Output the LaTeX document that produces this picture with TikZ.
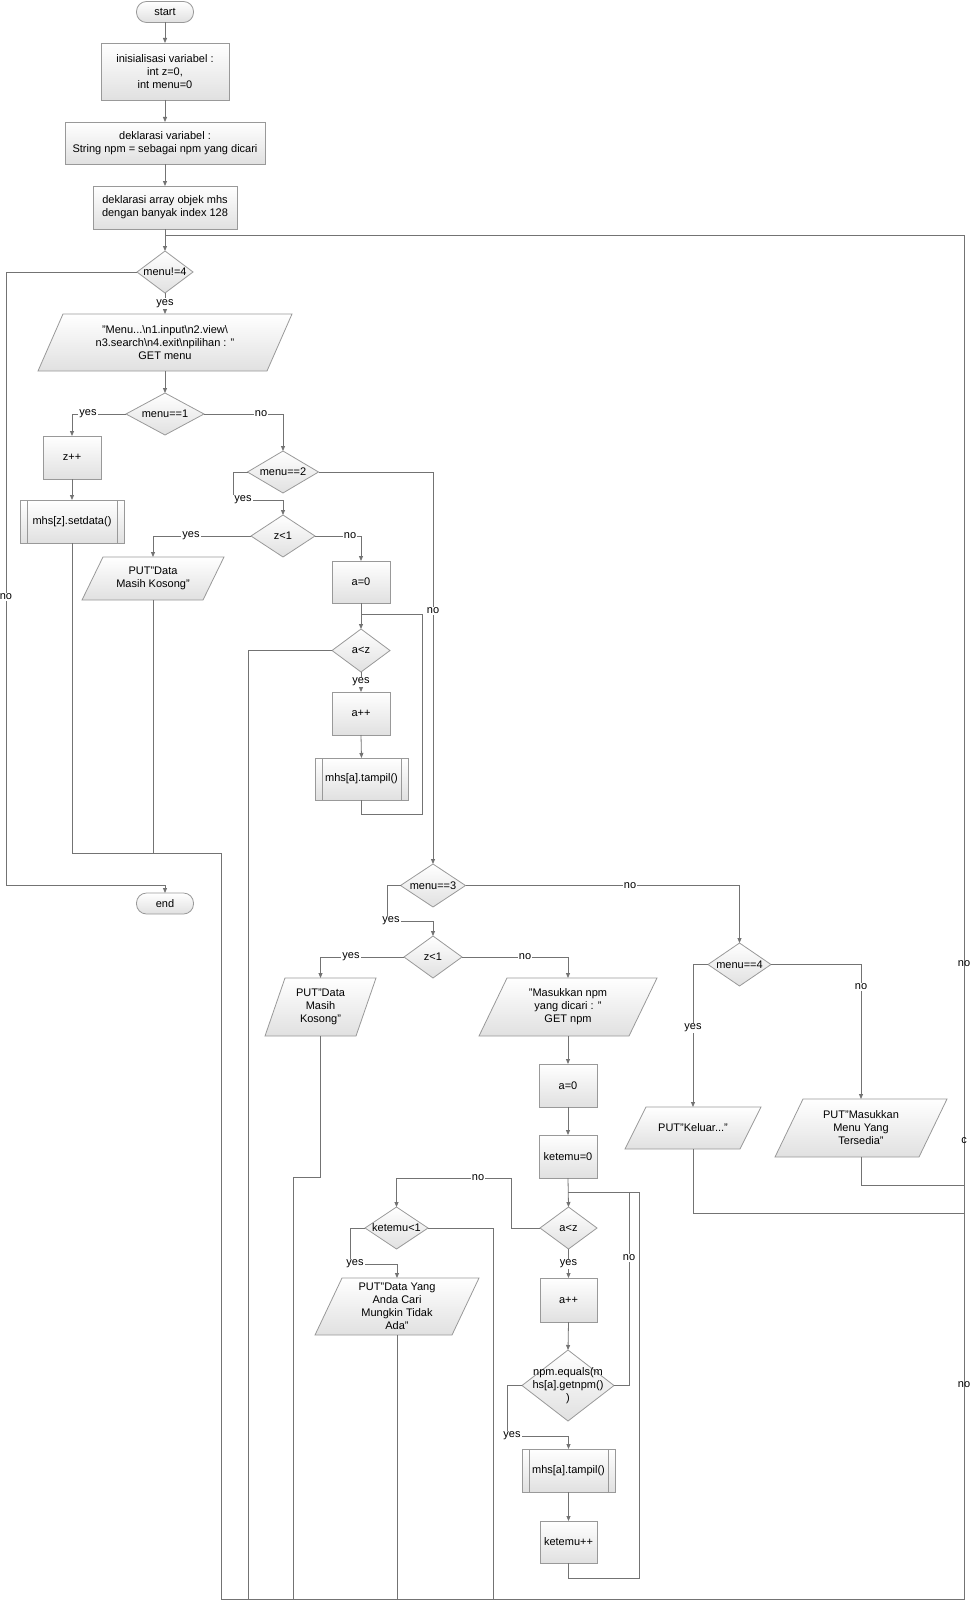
\documentclass[tikz,border=0pt]{standalone}
\usepackage{fontspec}
\setmainfont{Liberation Sans}
\usetikzlibrary{shapes.geometric,arrows.meta}
\tikzset{
  shp/.style={draw=black!40, line width=0.8pt, top color=white, bottom color=black!12, inner sep=1pt, outer sep=0pt, align=center},
  proc/.style={shp, rectangle},
  term/.style={shp, rectangle, rounded corners=10pt},
  dec/.style={shp, diamond},
  predef/.style={shp, rectangle, path picture={
     \draw[black!40, line width=0.8pt] ([xshift=7pt]path picture bounding box.north west) -- ([xshift=7pt]path picture bounding box.south west)
       ([xshift=-7pt]path picture bounding box.north east) -- ([xshift=-7pt]path picture bounding box.south east);}},
  paranode/.style={rectangle, inner sep=1pt, outer sep=0pt, align=center},
  parafill/.style={draw=black!40, line width=0.8pt, top color=white, bottom color=black!12},
  conn/.style={draw=black!55, line width=0.8pt},
  flow/.style={conn, -{Triangle[length=5pt,width=4pt]}},
  lbl/.style={fill=white, inner sep=1pt},
  rlbl/.style={inner sep=1pt}
}
\newcommand\para[7]{%
  \path[parafill] ({#2-#4/2+#6},{#3-#5/2}) -- ({#2+#4/2},{#3-#5/2}) -- ({#2+#4/2-#6},{#3+#5/2}) -- ({#2-#4/2},{#3+#5/2}) -- cycle;
  \node[paranode, minimum width={#4-2*#6}, minimum height=#5] (#1) at (#2,#3) {#7};}
\begin{document}
\begin{tikzpicture}[x=1pt,y=-1pt,font=\fontsize{11}{13}\selectfont]
\useasboundingbox (0,0) rectangle (970,1600);
% nodes
\node[term, minimum width=57, minimum height=21] (start) at (165,12) {start};
\node[proc, minimum width=128, minimum height=57] (init) at (165,71.5) {inisialisasi variabel :\\int z=0,\\int menu=0};
\node[proc, minimum width=200, minimum height=42] (decl) at (165,143) {deklarasi variabel :\\String npm = sebagai npm yang dicari};
\node[proc, minimum width=144, minimum height=43] (arr) at (165,207.5) {deklarasi array objek mhs\\dengan banyak index 128};
\node[dec, minimum width=56, minimum height=42] (m4) at (165,272) {\makebox[0pt]{menu!=4}};
\para{inp}{165}{342.5}{254}{57}{25}{"Menu...\textbackslash n1.input\textbackslash n2.view\textbackslash\\n3.search\textbackslash n4.exit\textbackslash npilihan : "\\GET menu}
\node[dec, minimum width=78, minimum height=42] (m1) at (165,414) {\makebox[0pt]{menu==1}};
\node[proc, minimum width=58, minimum height=43] (zpp) at (72,457.5) {z++};
\node[predef, minimum width=104, minimum height=43] (setd) at (72,521.5) {mhs[z].setdata()};
\node[dec, minimum width=71, minimum height=42] (m2) at (283,472) {\makebox[0pt]{menu==2}};
\node[dec, minimum width=64, minimum height=42] (zc1) at (283,536) {\makebox[0pt]{z<1}};
\para{put1}{153}{578.5}{142}{43}{21}{PUT”Data\\Masih Kosong”}
\node[proc, minimum width=58, minimum height=42] (a0a) at (361,582) {a=0};
\node[dec, minimum width=58, minimum height=43] (aza) at (361,650.5) {\makebox[0pt]{a<z}};
\node[proc, minimum width=58, minimum height=43] (ppa) at (361,713.5) {a++};
\node[predef, minimum width=93, minimum height=42] (tama) at (361.5,779) {mhs[a].tampil()};
\node[term, minimum width=57, minimum height=21] (end) at (165,903.5) {end};
\node[dec, minimum width=65, minimum height=43] (m3) at (433,885.5) {\makebox[0pt]{menu==3}};
\node[dec, minimum width=58, minimum height=42] (zc2) at (433,957) {\makebox[0pt]{z<1}};
\para{put2}{320.5}{1007}{111}{58}{20}{PUT”Data\\Masih\\Kosong”}
\para{msk}{568}{1007}{178}{58}{28}{"Masukkan npm\\yang dicari : "\\GET npm}
\node[proc, minimum width=58, minimum height=43] (a0b) at (568,1085.5) {a=0};
\node[proc, minimum width=58, minimum height=43] (k0) at (568,1156.5) {ketemu=0};
\node[dec, minimum width=57, minimum height=42] (azb) at (568.5,1228) {\makebox[0pt]{a<z}};
\node[dec, minimum width=63, minimum height=42] (k1) at (396.5,1228) {\makebox[0pt]{ketemu<1}};
\para{put3}{397}{1306.5}{164}{57}{27}{PUT"Data Yang\\Anda Cari\\Mungkin Tidak\\Ada"}
\node[proc, minimum width=57, minimum height=44] (ppb) at (568.5,1300) {a++};
\node[dec, minimum width=92, minimum height=71, label={[align=center, inner sep=0pt]center:{npm.equals(m\\hs[a].getnpm()\\)}}] (npm) at (568,1385.5) {};
\node[predef, minimum width=93, minimum height=43] (tamb) at (568.5,1470.5) {mhs[a].tampil()};
\node[proc, minimum width=57, minimum height=42] (kpp) at (568.5,1542) {ketemu++};
\node[dec, minimum width=63, minimum height=43] (m4b) at (739.5,964.5) {\makebox[0pt]{menu==4}};
\para{kel}{693}{1128}{136}{42}{21}{PUT"Keluar..."}
\para{mmn}{861}{1128}{172}{58}{28}{PUT"Masukkan\\Menu Yang\\Tersedia"}
% coordinates
\coordinate (jtop) at (165,235);
\coordinate (rtop) at (964,235);
\coordinate (rbot) at (964,1599);
\coordinate (b1) at (221,1599);
\coordinate (j1) at (221,853);
\coordinate (b2) at (248,1599);
\coordinate (b3) at (293,1599);
\coordinate (b4) at (397,1599);
\coordinate (b5) at (493,1599);
\coordinate (lno) at (6,885);
\coordinate (y2a) at (233,500);
\coordinate (lp1) at (422,814);
\coordinate (lp1t) at (361,614);
\coordinate (y3a) at (387,921);
\coordinate (p2j) at (293,1177);
\coordinate (n1) at (511,1178);
\coordinate (y5) at (350,1264);
\coordinate (y6) at (507,1436);
\coordinate (n6) at (629,1192);
\coordinate (j6) at (568,1192);
\coordinate (lp2) at (639,1578);
\coordinate (kj) at (964,1213);
\coordinate (mj) at (964,1185);
% connectors
\draw[flow] (start.south) -- (init.north);
\draw[flow] (init.south) -- (decl.north);
\draw[flow] (decl.south) -- (arr.north);
\draw[flow] (arr.south) -- (m4.north);
\draw[conn] (jtop) -- (rtop) -- (rbot) -- (b1);
\draw[flow] (m4.south) -- (inp.north);
\draw[flow] (m4.west) -| (lno) -| (end.north);
\draw[flow] (inp.south) -- (m1.north);
\draw[flow] (m1.west) -| (zpp.north);
\draw[flow] (zpp.south) -- (setd.north);
\draw[conn] (setd.south) |- (j1) -- (b1);
\draw[conn] (put1.south) -- (put1.south |- j1);
\draw[flow] (m1.east) -| (m2.north);
\draw[flow] (m2.west) -| (y2a) -| (zc1.north);
\draw[flow] (m2.east) -| (m3.north);
\draw[flow] (zc1.west) -| (put1.north);
\draw[flow] (zc1.east) -| (a0a.north);
\draw[flow] (a0a.south) -- (aza.north);
\draw[flow] (aza.south) -- (ppa.north);
\draw[flow] (ppa.south) -- (tama.north);
\draw[conn] (tama.south) |- (lp1) |- (lp1t);
\draw[conn] (aza.west) -| (b2);
\draw[flow] (m3.west) -| (y3a) -| (zc2.north);
\draw[flow] (m3.east) -| (m4b.north);
\draw[flow] (zc2.west) -| (put2.north);
\draw[flow] (zc2.east) -| (msk.north);
\draw[conn] (put2.south) |- (p2j) -- (b3);
\draw[flow] (msk.south) -- (a0b.north);
\draw[flow] (a0b.south) -- (k0.north);
\draw[flow] (k0.south) -- (azb.north);
\draw[flow] (azb.west) -| (n1) -| (k1.north);
\draw[flow] (k1.west) -| (y5) -| (put3.north);
\draw[conn] (k1.east) -| (b5);
\draw[conn] (put3.south) -- (b4);
\draw[flow] (azb.south) -- (ppb.north);
\draw[flow] (ppb.south) -- (npm.north);
\draw[flow] (npm.west) -| (y6) -| (tamb.north);
\draw[conn] (npm.east) -| (n6) -- (j6);
\draw[flow] (tamb.south) -- (kpp.north);
\draw[conn] (kpp.south) |- (lp2) |- (j6);
\draw[flow] (m4b.west) -| (kel.north);
\draw[flow] (m4b.east) -| (mmn.north);
\draw[conn] (kel.south) |- (kj);
\draw[conn] (mmn.south) |- (mj);
% labels
\node[lbl] (l1) at (165,303.5) {yes};
\node[lbl] (l2) at (88,414) {yes};
\node[lbl] (l3) at (261,414) {no};
\node[lbl] (l4) at (243,500) {yes};
\node[lbl] (l5) at (433,611) {no};
\node[lbl] (l6) at (191,536) {yes};
\node[lbl] (l7) at (350,536) {no};
\node[lbl] (l8) at (361,682) {yes};
\node[lbl] (l9) at (6,597) {no};
\node[lbl] (l10) at (391,921) {yes};
\node[lbl] (l11) at (630,885.5) {no};
\node[lbl] (l12) at (351,957) {yes};
\node[lbl] (l13) at (525,957) {no};
\node[lbl] (l14) at (478,1178) {no};
\node[lbl] (l15) at (355,1264) {yes};
\node[lbl] (l16) at (568.5,1264) {yes};
\node[lbl] (l17) at (512,1436) {yes};
\node[lbl] (l18) at (629,1258) {no};
\node[lbl] (l19) at (693,1028) {yes};
\node[lbl] (l20) at (861,987) {no};
\node[rlbl] (r1) at (964,964) {no};
\node[rlbl] (r2) at (964,1141) {c};
\node[rlbl] (r3) at (964,1385) {no};
\end{tikzpicture}
\end{document}
